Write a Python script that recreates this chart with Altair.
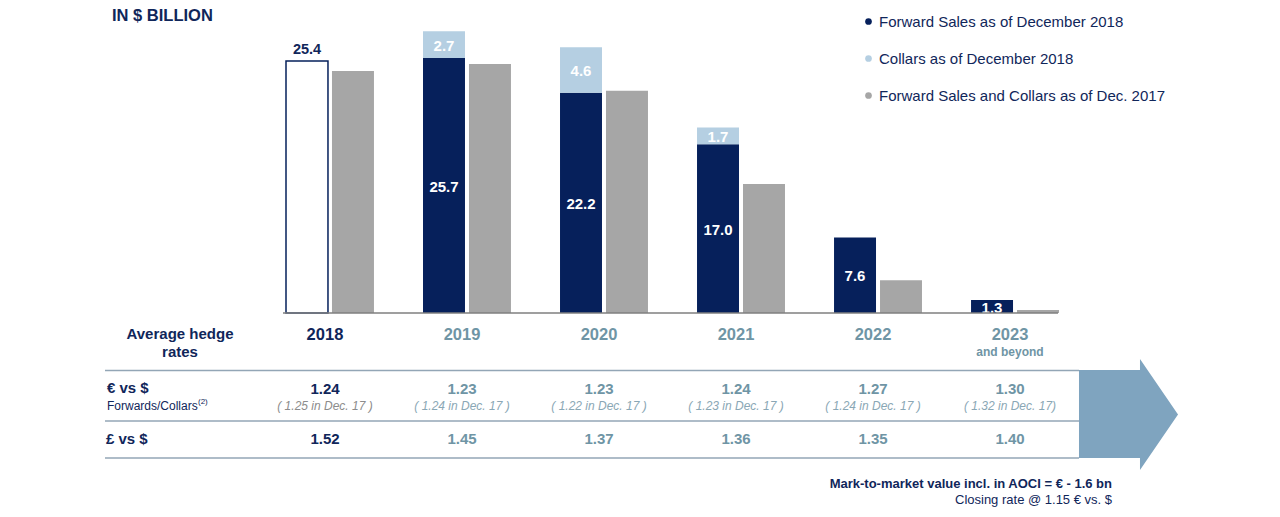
import altair as alt
import pandas as pd

# ---- values -------------------------------------------------------------
years = ["2018", "2019", "2020", "2021", "2022", "2023"]
forward_dec18 = [25.4, 25.7, 22.2, 17.0, 7.6, 1.3]
collars_dec18 = [0.0, 2.7, 4.6, 1.7, 0.0, 0.0]
total_dec17 = [24.4, 25.1, 22.4, 13.0, 3.3, 0.3]

eur_rate = [1.24, 1.23, 1.23, 1.24, 1.27, 1.30]
eur_rate_dec17 = [1.25, 1.24, 1.22, 1.23, 1.24, 1.32]
gbp_rate = [1.52, 1.45, 1.37, 1.36, 1.35, 1.40]
year_notes = ["", "", "", "", "", "and beyond"]

legend_names = {
    "fwd": "Forward Sales as of December 2018",
    "collar": "Collars as of December 2018",
    "old": "Forward Sales and Collars as of Dec. 2017",
}

# ---- style --------------------------------------------------------------
FONT = "Liberation Sans"
NAVY = "#06205b"
NAVY_TEXT = "#10265a"
LIGHT = "#b5cfe2"
GREY = "#a6a6a6"
TEAL = "#6f95a5"
TEAL_SOFT = "#8aa7b5"
RULE = "#93a6b6"
ARROW = "#7fa4bf"

# ---- tables -------------------------------------------------------------
bar_rows = []
for i, yr in enumerate(years):
    first_kind = "open" if yr == "2018" else "fwd"
    bar_rows.append(dict(year=yr, grp="new", kind=first_kind,
                         y0=0.0, y1=forward_dec18[i], value=forward_dec18[i]))
    if collars_dec18[i] > 0:
        bar_rows.append(dict(year=yr, grp="new", kind="collar",
                             y0=forward_dec18[i],
                             y1=forward_dec18[i] + collars_dec18[i],
                             value=collars_dec18[i]))
    bar_rows.append(dict(year=yr, grp="old", kind="old",
                         y0=0.0, y1=total_dec17[i], value=total_dec17[i]))
bars_df = pd.DataFrame(bar_rows)
bars_df["mid"] = (bars_df["y0"] + bars_df["y1"]) / 2

table_df = pd.DataFrame({
    "year": years,
    "note": year_notes,
    "eur": [f"{v:.2f}" for v in eur_rate],
    "eur17": [f"( {v:.2f} in Dec. 17 )" for v in eur_rate_dec17],
    "gbp": [f"{v:.2f}" for v in gbp_rate],
})
table_df.loc[table_df["year"] == "2023", "eur17"] = f"( {eur_rate_dec17[-1]:.2f} in Dec. 17)"

# ---- shared encodings ---------------------------------------------------
x_scale = alt.Scale(domain=years, range=[286, 1059], paddingInner=0.358, paddingOuter=0)
y_scale = alt.Scale(domain=[0, 30], range=[313, 15.4], nice=False, zero=True)
X = alt.X("year:N", scale=x_scale, axis=None)
XOFF = alt.XOffset("grp:N", scale=alt.Scale(domain=["new", "old"], paddingInner=0.087, paddingOuter=0))

label_expr = " : ".join(
    f"datum.value == '{k}' ? '{v}'" for k, v in list(legend_names.items())[:-1]
) + f" : '{list(legend_names.values())[-1]}'"

bars = alt.Chart(bars_df).mark_bar(stroke=NAVY).encode(
    x=X,
    xOffset=XOFF,
    y=alt.Y("y0:Q", scale=y_scale, axis=None),
    y2="y1:Q",
    fill=alt.Fill(
        "kind:N",
        scale=alt.Scale(domain=["fwd", "collar", "old", "open"],
                        range=[NAVY, LIGHT, GREY, "white"]),
        legend=alt.Legend(
            orient="none", legendX=861, legendY=14, direction="vertical",
            title=None, values=["fwd", "collar", "old"], labelExpr=label_expr,
            symbolType="circle", symbolSize=45, symbolStrokeWidth=0,
            labelFont=FONT, labelFontSize=15, labelColor=NAVY_TEXT,
            rowPadding=21, labelOffset=3, padding=0, labelLimit=400,
        ),
    ),
    strokeWidth=alt.condition(alt.datum.kind == "open", alt.value(1.5), alt.value(0)),
)

inner_labels = alt.Chart(bars_df).transform_filter(
    "datum.grp == 'new' && datum.kind != 'open'"
).mark_text(font=FONT, fontSize=15, fontWeight="bold", color="white",
            baseline="middle", dy=1).encode(
    x=X, xOffset=XOFF,
    y=alt.Y("mid:Q", scale=y_scale, axis=None),
    text=alt.Text("value:Q", format=".1f"),
)

top_label = alt.Chart(bars_df).transform_filter(
    "datum.kind == 'open'"
).mark_text(font=FONT, fontSize=14.5, fontWeight="bold", color=NAVY_TEXT,
            baseline="bottom", dy=-4).encode(
    x=X, xOffset=XOFF,
    y=alt.Y("y1:Q", scale=y_scale, axis=None),
    text=alt.Text("value:Q", format=".1f"),
)

one_row = alt.Data(values=[{}])


def rule(x1, x2, y, color, width):
    return alt.Chart(one_row).mark_rule(color=color, strokeWidth=width).encode(
        x=alt.value(x1), x2=alt.value(x2), y=alt.value(y))


def note(text, x, y, size, weight="normal", color=NAVY_TEXT, align="left", style="normal", lh=18):
    return alt.Chart(one_row).mark_text(
        text=text, font=FONT, fontSize=size, fontWeight=weight, color=color,
        align=align, baseline="middle", fontStyle=style, lineHeight=lh,
    ).encode(x=alt.value(x), y=alt.value(y))


baseline = rule(283, 1058, 313, "#7f7f7f", 1.5)


def table_text(field, y, size, weight="bold", style="normal",
               first_color=NAVY_TEXT, other_color=TEAL):
    return alt.Chart(table_df).mark_text(
        font=FONT, fontSize=size, fontWeight=weight, fontStyle=style,
        baseline="middle", dx=-5,
    ).encode(
        x=X,
        y=alt.value(y),
        text=f"{field}:N",
        color=alt.condition(alt.datum.year == "2018", alt.value(first_color), alt.value(other_color)),
    )


year_row = table_text("year", 335, 16.5)
note_row = table_text("note", 352, 12)
eur_row = table_text("eur", 389, 15)
eur17_row = table_text("eur17", 406, 12, weight="normal", style="italic",
                       first_color="#8c8c8c", other_color=TEAL_SOFT)
gbp_row = table_text("gbp", 439, 15)

# arrow: body plus head, drawn as one symbol
arrow_path = ("M-0.892,-0.802 L0.207,-0.802 L0.207,-1 L0.892,0 "
              "L0.207,1 L0.207,0.784 L-0.892,0.784 Z")
arrow = alt.Chart(one_row).mark_point(
    shape=arrow_path, size=111 * 111, filled=True, fill=ARROW, opacity=1, strokeWidth=0,
).encode(x=alt.value(1128.5), y=alt.value(414.5))

layers = [
    bars, inner_labels, top_label, baseline,
    rule(105, 1079, 370.5, RULE, 1.3),
    rule(105, 1079, 421, RULE, 1.3),
    rule(105, 1079, 458, RULE, 1.3),
    arrow,
    year_row, note_row, eur_row, eur17_row, gbp_row,
    note("IN $ BILLION", 112, 16, 16.5, "bold"),
    note(["Average hedge", "rates"], 180, 334, 15, "bold", align="center", lh=18),
    note("€ vs $", 107, 388, 15, "bold"),
    note("Forwards/Collars", 107, 406, 12),
    note("(2)", 198, 402, 8),
    note("£ vs $", 106, 439, 15, "bold"),
    note("Mark-to-market value incl. in AOCI = € - 1.6 bn", 1112, 484, 13, "bold", align="right"),
    note("Closing rate @ 1.15 € vs. $", 1112, 500, 13, align="right"),
]

chart = alt.layer(*layers).properties(
    width=1280, height=517, autosize="none", padding=0,
).configure_view(stroke=None)

chart.save("out.html", embed_options={"renderer": "svg", "actions": False})
